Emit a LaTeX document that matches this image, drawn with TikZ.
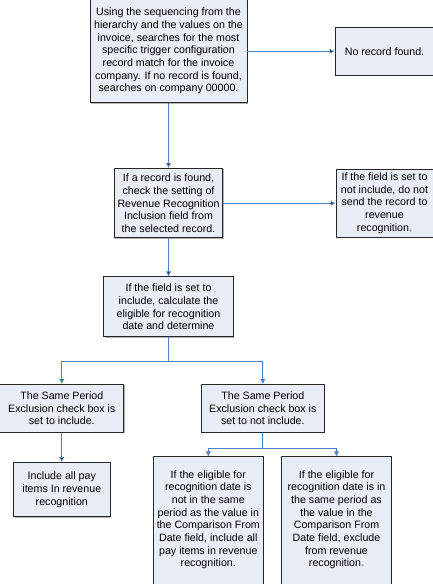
\documentclass[tikz,border=0pt]{standalone}
\usepackage{fontspec}
\setmainfont{Liberation Sans}
\usetikzlibrary{positioning, arrows.meta, shadows}
\definecolor{boxfill}{HTML}{E9EDF6}
\definecolor{flowblue}{HTML}{4F81BD}

\begin{document}
\begin{tikzpicture}[x=1bp,y=1bp,>={Latex[length=5bp,width=5.5bp]},on grid,
  font=\fontsize{10.7}{12.7}\selectfont]
\tikzstyle{stepbox}=[rectangle,draw=black!85,line width=0.9bp,fill=boxfill,
  align=center,inner sep=2bp,
  drop shadow={shadow xshift=0.9bp,shadow yshift=-0.9bp,fill=black!30,opacity=1}]
\tikzstyle{flow}=[draw=flowblue,line width=0.9bp]

  \useasboundingbox (0,0) rectangle (433,-584);

  %--- nodes ---
  \node[stepbox, minimum width=157bp, minimum height=103bp] (search) at (168.5,-51.2)
    {Using the sequencing from the\\hierarchy and the values on the\\invoice, searches for the most\\specific trigger configuration\\record match for the invoice\\company. If no record is found,\\searches on company 00000.};
  \node[stepbox, minimum width=99bp, minimum height=48bp] (norecord) [right=216bp of search]
    {No record found.};
  \node[stepbox, minimum width=108.4bp, minimum height=69.4bp] (found) [below=152bp of search]
    {If a record is found,\\check the setting of\\Revenue Recognition\\Inclusion field from\\the selected record.};
  \node[stepbox, minimum width=97bp, minimum height=68bp] (notsend) [right=216bp of found]
    {If the field is set to\\not include, do not\\send the record to\\revenue\\recognition.};
  \node[stepbox, minimum width=129.6bp, minimum height=60bp] (calc) [below=103.7bp of found]
    {If the field is set to\\include, calculate the\\eligible for recognition\\date and determine};
  \node[stepbox, minimum width=124bp, minimum height=48bp] (exclinc) [below=101.6bp of calc, xshift=-106.7bp]
    {The Same Period\\Exclusion check box is\\set to include.};
  \node[stepbox, minimum width=123bp, minimum height=48bp] (exclnot) [below=101.6bp of calc, xshift=94.3bp]
    {The Same Period\\Exclusion check box is\\set to not include.};
  \node[stepbox, minimum width=96.3bp, minimum height=54.4bp] (payall) [below=81.2bp of exclinc]
    {Include all pay\\items In revenue\\recognition};
  \node[stepbox, minimum width=110bp, minimum height=140bp] (notsame) [below=118.4bp of exclnot, xshift=-54.5bp]
    {If the eligible for\\recognition date is\\not in the same\\period as the value in\\the Comparison From\\Date field, include all\\pay items in revenue\\recognition.\\\strut};
  \node[stepbox, minimum width=109.6bp, minimum height=140bp] (same) [right=128.2bp of notsame]
    {If the eligible for\\recognition date is in\\the same period as\\the value in the\\Comparison From\\Date field, exclude\\from revenue\\recognition.\\\strut};

  \coordinate (fork1) at ([yshift=-24bp]calc.south);
  \coordinate (fork2) at ([yshift=-15.4bp]exclnot.south);

  %--- connectors ---
  \path[flow,->]
    (search) edge (norecord)
    (search) edge (found)
    (found) edge (notsend)
    (found) edge (calc)
    (exclinc) edge (payall);

  \draw[flow] (calc) -- (fork1);
  \draw[flow,->] (fork1) -| (exclinc);
  \draw[flow,->] (fork1) -| (exclnot);
  \draw[flow] (exclnot) -- (fork2);
  \draw[flow,->] (fork2) -| (notsame);
  \draw[flow,->] (fork2) -| (same);
\end{tikzpicture}
\end{document}
